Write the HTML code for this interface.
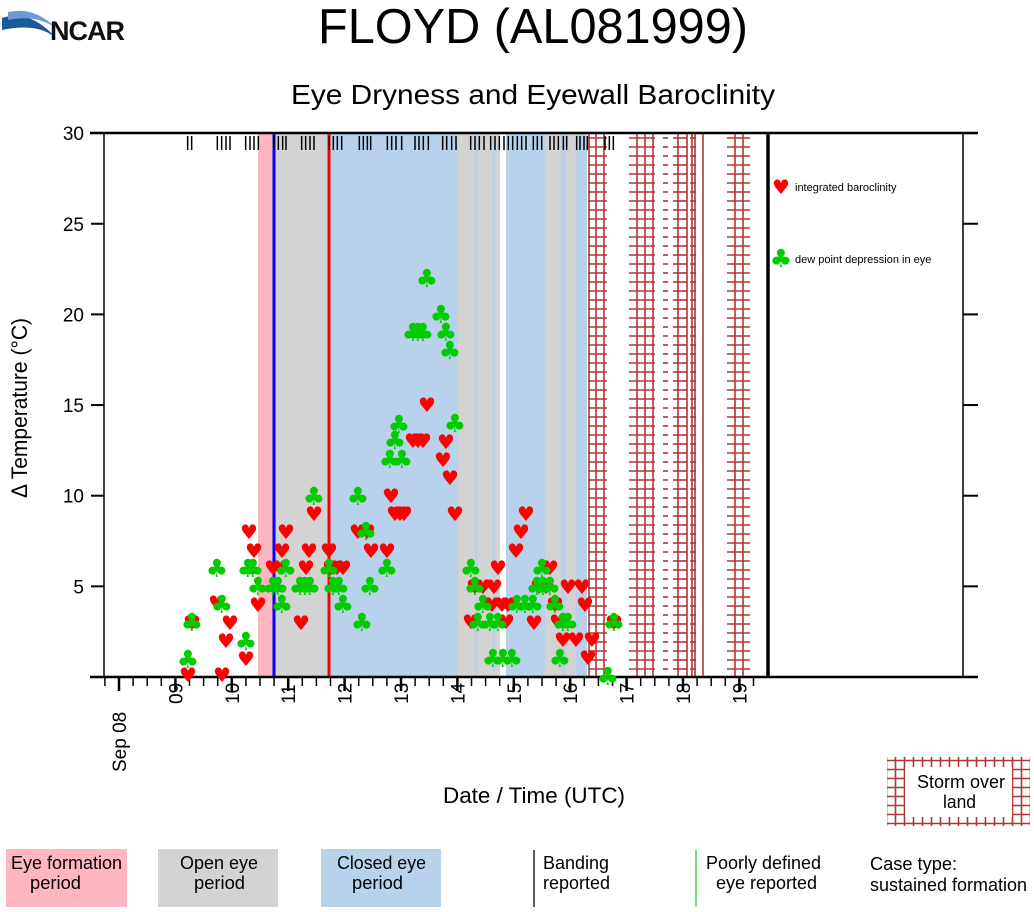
<!DOCTYPE html>
<html><head><meta charset="utf-8"><style>
body{margin:0;background:#fff;}
svg{display:block;font-family:"Liberation Sans",Arial,sans-serif;}
</style></head><body>
<svg id="s" width="1034" height="912" viewBox="0 0 1034 912" xmlns="http://www.w3.org/2000/svg">
<defs>
<pattern id="hat" width="9" height="9" patternUnits="userSpaceOnUse">
<path d="M0 4.5H9M4.5 0V9" stroke="#b03535" stroke-width="1.6"/>
</pattern>
</defs>
<path d="M2 18 Q30 8 58 40 Q40 22 2 30Z" fill="#1a5a9a"/>
<path d="M8 12 Q34 6 56 28 Q36 14 8 20Z" fill="#6a9ad0"/>
<text x="50" y="40" font-size="27" font-weight="bold" fill="#111" letter-spacing="-1">NCAR</text>
<text x="533" y="43" font-size="49" text-anchor="middle" textLength="430" lengthAdjust="spacingAndGlyphs">FLOYD (AL081999)</text>
<text x="533" y="104" font-size="28" text-anchor="middle" textLength="484" lengthAdjust="spacingAndGlyphs">Eye Dryness and Eyewall Baroclinity</text>
<g id="g"></g>
<text transform="translate(27,408) rotate(-90)" font-size="22" text-anchor="middle" textLength="180" lengthAdjust="spacingAndGlyphs">Δ Temperature (°C)</text>
<text x="534" y="803" font-size="22" text-anchor="middle" textLength="182" lengthAdjust="spacingAndGlyphs">Date / Time (UTC)</text>
<rect x="6" y="849" width="121" height="58" fill="#ffb6c1"/>
<text font-size="18"><tspan x="11" y="869" textLength="111" lengthAdjust="spacingAndGlyphs">Eye formation</tspan><tspan x="30" y="889" textLength="51" lengthAdjust="spacingAndGlyphs">period</tspan></text>
<rect x="158" y="849" width="120" height="58" fill="#d3d3d3"/>
<text font-size="18"><tspan x="180" y="869" textLength="78" lengthAdjust="spacingAndGlyphs">Open eye</tspan><tspan x="194" y="889" textLength="51" lengthAdjust="spacingAndGlyphs">period</tspan></text>
<rect x="321" y="849" width="120" height="58" fill="#b8d2ec"/>
<text font-size="18"><tspan x="337" y="869" textLength="89" lengthAdjust="spacingAndGlyphs">Closed eye</tspan><tspan x="352" y="889" textLength="51" lengthAdjust="spacingAndGlyphs">period</tspan></text>
<line x1="534" y1="850" x2="534" y2="907" stroke="#000" stroke-width="1.3"/>
<text font-size="18"><tspan x="543" y="869" textLength="66" lengthAdjust="spacingAndGlyphs">Banding</tspan><tspan x="543" y="889" textLength="67" lengthAdjust="spacingAndGlyphs">reported</tspan></text>
<line x1="696" y1="850" x2="696" y2="907" stroke="#3c3" stroke-width="1.3"/>
<text font-size="18"><tspan x="706" y="869" textLength="115" lengthAdjust="spacingAndGlyphs">Poorly defined</tspan><tspan x="716" y="889" textLength="101" lengthAdjust="spacingAndGlyphs">eye reported</tspan></text>
<text font-size="18"><tspan x="870" y="870" textLength="87" lengthAdjust="spacingAndGlyphs">Case type:</tspan><tspan x="870" y="891" textLength="157" lengthAdjust="spacingAndGlyphs">sustained formation</tspan></text>
<rect x="887" y="757" width="143" height="69" fill="url(#hat)"/>
<rect x="905" y="767" width="107" height="50" fill="#fff"/>
<text font-size="18"><tspan x="917" y="788" textLength="88" lengthAdjust="spacingAndGlyphs">Storm over</tspan><tspan x="943" y="808" textLength="33" lengthAdjust="spacingAndGlyphs">land</tspan></text>
</svg>
<script>
const g=document.getElementById('g');let h='';
const X0=119,DX=56.4,Y=v=>677-v*18.13;
const rect=(a,b,c)=>h+=`<rect x="${a}" y="133" width="${b-a}" height="544" fill="${c}"/>`;
rect(258,274,'#ffb6c1');rect(274,329,'#d3d3d3');rect(329,458,'#b8d2ec');
rect(458,475,'#d3d3d3');rect(475,478,'#b8d2ec');rect(478,493,'#d3d3d3');rect(493,495,'#b8d2ec');rect(495,500,'#d3d3d3');
rect(506,545,'#b8d2ec');rect(545,561,'#d3d3d3');rect(561,566,'#b8d2ec');rect(566,576,'#d3d3d3');rect(576,587,'#b8d2ec');
[[588,607],[629,655],[673,687],[690,696],[727,750]].forEach(([a,b])=>{
 for(let y=138;y<677;y+=9)h+=`<line x1="${a}" x2="${b}" y1="${y}" y2="${y}" stroke="#b03535" stroke-width="1.6"/>`;});
for(let y=138;y<677;y+=9)h+=`<line x1="663" x2="668" y1="${y}" y2="${y}" stroke="#b03535" stroke-width="1.6"/>`;
[589,596,604,637,645,653,678,687,692,695,703,735,743].forEach(x=>h+=`<line x1="${x}" x2="${x}" y1="133" y2="677" stroke="#b03535" stroke-width="1.6"/>`);
h+=`<line x1="274" x2="274" y1="133" y2="677" stroke="#00f" stroke-width="3"/>`;
h+=`<line x1="329" x2="329" y1="133" y2="677" stroke="#f00" stroke-width="3"/>`;
h+=`<line x1="768" x2="768" y1="133" y2="677" stroke="#000" stroke-width="3.5"/>`;
[263,275,352,365,378,390,437,450,462,475,522,535,548,558,605,617,630,642,688,700,712,725,778,790,802,812,862,875,888,905,945,957,970,985,1028,1040,1055,1068,1112,1125,1138,1152,1172,1185,1198,1212,1225,1238,1252,1265,1278,1300,1312,1325,1350,1362,1375,1390,1400,1430,1440,1452,1462,1515,1528,1540].forEach(p=>{const x=100+p/3;h+=`<line x1="${x}" x2="${x}" y1="136" y2="150" stroke="#000" stroke-width="1.5"/>`;});
h+=`<rect x="104" y="133" width="859" height="544" fill="none" stroke="#000" stroke-width="1.5"/>`;
h+=`<line x1="90" x2="978" y1="133" y2="133" stroke="#000" stroke-width="2.5"/>`;
h+=`<line x1="90" x2="978" y1="677" y2="677" stroke="#000" stroke-width="2.5"/>`;
[5,10,15,20,25,30].forEach(v=>{const y=Y(v);h+=`<line x1="91" x2="104" y1="${y}" y2="${y}" stroke="#000" stroke-width="2"/><line x1="963" x2="978" y1="${y}" y2="${y}" stroke="#000" stroke-width="2"/><text x="84" y="${y+7}" font-size="19" text-anchor="end">${v}</text>`;});
for(let i=-1;i<=52;i++){const x=X0+i*DX/4;if(x<104||x>766)continue;const maj=i%4==0;
 h+=`<line x1="${x}" x2="${x}" y1="677" y2="${maj?691:686}" stroke="#000" stroke-width="${maj?2.5:1.5}"/>`;}
const lab=['Sep 08','09','10','11','12','13','14','15','16','17','18','19'];
lab.forEach((l,i)=>{const x=X0+i*DX;h+=`<text transform="translate(${x+7},${i?704:772}) rotate(-90)" font-size="19" text-anchor="start">${l}</text>`;});
const H=[[188,675],[222,675],[217,603],[230,623],[226,641],[246,659],[249,532],[254,551],[258,605],[273,568],[280,568],[286,532],[282,551],[306,568],[309,551],[301,623],[314,514],[329,551],[337,568],[343,568],[358,532],[367,532],[371,551],[387,551],[391,496],[395,514],[400,514],[404,514],[192,623],
[413,441],[418,441],[423,441],[427,405],[446,442],[443,460],[450,478],[455,514],[526,514],[521,532],[516,551],[498,568],[550,568],[475,587],[483,587],[494,587],[539,587],[546,587],[568,587],[582,587],[492,605],[502,605],[508,605],[555,605],[585,605],[471,622],[506,622],[534,623],[558,622],[614,623],[563,640],[576,640],[592,640],[588,658],[331,568]];
const C=[[188,660],[217,569],[222,605],[246,642],[248,569],[253,569],[258,587],[273,587],[278,587],[286,569],[282,605],[300,587],[305,587],[310,587],[314,497],[329,569],[333,587],[339,587],[343,605],[358,497],[366,532],[370,587],[362,623],[387,569],[192,623],
[390,460],[395,441],[399,425],[402,460],[413,333],[418,333],[423,333],[427,279],[441,315],[446,333],[450,351],[455,424],[471,569],[542,569],[475,587],[537,587],[543,587],[550,587],[483,605],[517,605],[525,605],[533,605],[555,605],[478,623],[490,623],[498,623],[563,623],[568,623],[614,623],[493,659],[503,659],[512,659],[560,659],[608,677]];
H.forEach(([x,y])=>h+=`<text x="${x}" y="${y+7}" font-family="DejaVu Sans" font-size="20" fill="#f00" text-anchor="middle">♥</text>`);
C.forEach(([x,y])=>h+=`<text x="${x}" y="${y+8}" font-family="DejaVu Sans" font-size="25" fill="#0c0" text-anchor="middle">♣</text>`);
h+=`<text x="781" y="194" font-family="DejaVu Sans" font-size="20" fill="#f00" text-anchor="middle">♥</text><text x="795" y="191" font-size="11">integrated baroclinity</text>`;
h+=`<text x="781" y="267" font-family="DejaVu Sans" font-size="25" fill="#0c0" text-anchor="middle">♣</text><text x="795" y="263" font-size="11">dew point depression in eye</text>`;
g.innerHTML=h;
</script>
</body></html>
